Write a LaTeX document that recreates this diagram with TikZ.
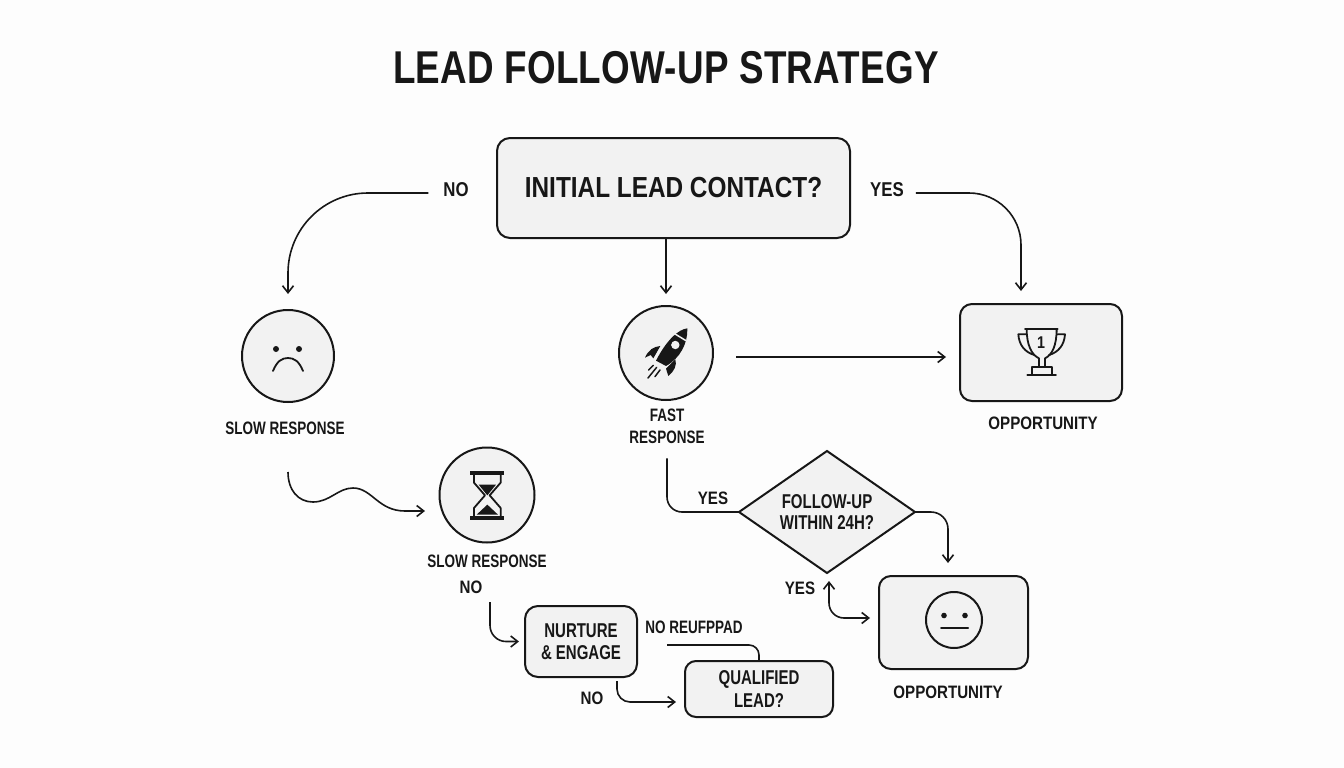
\documentclass[tikz,border=0pt]{standalone}
\usepackage{fontspec}
\setmainfont[FakeStretch=0.84]{Liberation Sans}
\newfontfamily\titlefont[FakeStretch=0.80,LetterSpace=0.6]{Liberation Sans}
\newfontfamily\slimfont[FakeStretch=0.75]{Liberation Sans}
\usetikzlibrary{arrows.meta,shapes.geometric}
\definecolor{ink}{HTML}{171717}
\definecolor{panel}{HTML}{F2F2F2}
\definecolor{paper}{HTML}{FDFDFD}
\tikzset{
  box/.style={draw=ink,fill=panel,line width=2pt,rounded corners=#1,inner sep=0pt,outer sep=0pt,align=center,text=ink},
  box/.default=13pt,
  disc/.style={draw=ink,fill=panel,line width=2pt,circle,inner sep=0pt,outer sep=0pt},
  lab/.style={text=ink,align=center,inner sep=0pt,outer sep=0pt,font=\bfseries\fontsize{18}{22}\selectfont},
  labs/.style={text=ink,align=center,inner sep=0pt,outer sep=0pt,font=\slimfont\bfseries\fontsize{18}{22}\selectfont},
  labl/.style={text=ink,align=center,inner sep=0pt,outer sep=0pt,font=\bfseries\fontsize{20}{22}\selectfont},
  conn/.style={draw=ink,line width=1.6pt,-{Straight Barb[length=7pt,width=11pt,line width=1.6pt]}},
  plain/.style={draw=ink,line width=1.6pt},
  glyph/.style={draw=ink,line width=1.8pt,line cap=round,line join=round},
}
\begin{document}
\begin{tikzpicture}[x=1pt,y=-1pt]
\useasboundingbox[fill=paper] (0,0) rectangle (1344,768);
\node[text=ink,inner sep=0pt,font=\titlefont\bfseries\fontsize{46}{50}\selectfont] (title) at (666,68) {LEAD FOLLOW-UP STRATEGY};
% nodes
\node[box,minimum width=353pt,minimum height=100pt,font=\bfseries\fontsize{29}{34}\selectfont] (main) at (673.5,188) {INITIAL LEAD CONTACT?};
\node[labl] (noA) at (456,190) {NO};
\node[labl] (yesA) at (887,190) {YES};
\node[disc,minimum size=92pt] (sad) at (288,356) {};
\node[disc,minimum size=94pt] (rocket) at (666,353) {};
\node[box=12pt,minimum width=162pt,minimum height=97pt] (trophy) at (1041,352.5) {};
\node[labs] (slowA) at (285,428) {SLOW RESPONSE};
\node[labs] (fast) at (667,426) {FAST\\RESPONSE};
\node[lab] (oppA) at (1043,423) {OPPORTUNITY};
\node[disc,minimum size=95pt] (glass) at (487,495) {};
\node[labs] (slowB) at (487,561) {SLOW RESPONSE};
\node[lab] (noB) at (471,587) {NO};
\node[box,minimum width=112pt,minimum height=71pt,font=\slimfont\bfseries\fontsize{20}{22}\selectfont] (nurture) at (581,641.5) {NURTURE\\\&~ENGAGE};
\node[labs] (refuel) at (694,627) {NO REUFPPAD};
\node[box=11pt,minimum width=148pt,minimum height=56pt,font=\slimfont\bfseries\fontsize{20}{23}\selectfont] (qualified) at (759,689) {QUALIFIED\\LEAD?};
\node[lab] (noC) at (592,698) {NO};
\node[diamond,aspect=1.44,draw=ink,fill=panel,line width=2pt,inner sep=0pt,outer sep=0pt,minimum width=176pt,minimum height=122pt,text=ink,align=center,font=\slimfont\bfseries\fontsize{20}{21}\selectfont] (follow) at (827,512) {FOLLOW-UP\\WITHIN 24H?};
\node[lab] (yesB) at (713,498) {YES};
\node[lab] (yesC) at (800,588) {YES};
\node[box=12pt,minimum width=149pt,minimum height=93pt] (neutral) at (953.5,622.5) {};
\node[lab] (oppB) at (948,692) {OPPORTUNITY};
\coordinate (waveS) at (288,472);
\coordinate (nurtS) at (490,602);
\coordinate (refS) at (667,645);
% connectors
\draw[conn,rounded corners=80pt,shorten <=15pt,shorten >=16pt] ([yshift=-3pt]noA.west) -| (sad.north);
\draw[conn,rounded corners=52pt,shorten <=12pt,shorten >=13pt] ([yshift=-3pt]yesA.east) -| ([xshift=-20pt]trophy.north);
\draw[conn,shorten >=12pt] (main.south -| rocket.north) -- (rocket.north);
\draw[conn,shorten <=23pt,shorten >=14pt] ([yshift=-4pt]rocket.east) -- ([yshift=-4.5pt]trophy.west);
\draw[conn] (waveS) .. controls (288,490) and (298,502) .. (313,502) .. controls (330,502) and (338,488) .. (353,488) .. controls (372,488) and (378,511) .. (405,511) -- (425,511);
\draw[conn,rounded corners=16pt,shorten >=6pt] (nurtS) |- (nurture.west);
\draw[plain,rounded corners=10pt] (refS) -| (qualified.north);
\draw[conn,rounded corners=13pt,shorten <=4pt,shorten >=9pt] ([xshift=36pt]nurture.south) |- ([yshift=-13pt]qualified.west);
\draw[plain,rounded corners=15pt,shorten <=15pt] (fast.south) |- (follow.west);
\draw[conn,rounded corners=17pt,shorten >=13pt] (follow.east) -| ([xshift=-5.5pt]neutral.north);
\draw[draw=ink,line width=1.6pt,{Straight Barb[length=7pt,width=11pt,line width=1.6pt]}-{Straight Barb[length=7pt,width=11pt,line width=1.6pt]},rounded corners=15pt,shorten <=9pt,shorten >=8pt] ([yshift=4.5pt]neutral.west) -| ([xshift=2pt]follow.south);
% sad face
\fill[ink] (276,349) circle (3pt) (299,349) circle (3pt);
\draw[glyph] (273,371) .. controls (277,361) and (282,358) .. (288,358) .. controls (294,358) and (299,361) .. (303,371);
% neutral face
\node[disc,draw=ink,fill=none,minimum size=56pt] (nface) at (954,620) {};
\fill[ink] (944,615.5) circle (2.8pt) (965,615.5) circle (2.8pt);
\draw[glyph,line width=2pt] (941,627.5) -- (968,627.5);
% rocket
\begin{scope}[shift={(600,290)},x=0.3333pt,y=-0.3333pt]
\fill[ink] (262,115) .. controls (235,118) and (200,150) .. (168,212) -- (198,228) .. controls (240,205) and (264,160) .. (262,115) -- cycle;
\draw[panel,line width=1.5pt] (222,130) -- (258,152);
\fill[panel] (226,165) circle (4.2pt);
\fill[ink] (135,203) .. controls (145,180) and (160,170) .. (181,168) -- (160,205) -- (152,195) -- cycle;
\fill[ink] (205,258) -- (198,236) -- (226,208) .. controls (232,225) and (222,245) .. (205,258) -- cycle;
\draw[ink,line width=1.5pt,line cap=round] (144,264) -- (170,232);
\draw[ink,line width=1.5pt,line cap=round] (146,240) -- (160,226);
\draw[ink,line width=1.5pt,line cap=round] (165,260) -- (180,240);
\end{scope}
% trophy
\begin{scope}[shift={(950,295)},x=0.3333pt,y=-0.3333pt]
\draw[glyph,fill=panel] (225,102) -- (323,102) (230,102) .. controls (230,150) and (245,180) .. (267,190) -- (267,216) -- (285,216) -- (285,190) .. controls (307,180) and (320,150) .. (320,102);
\draw[glyph] (228,118) -- (205,118) .. controls (207,150) and (225,172) .. (253,180);
\draw[glyph] (322,118) -- (345,118) .. controls (343,150) and (325,172) .. (297,180);
\draw[glyph] (245,238) -- (245,216) -- (305,216) -- (305,238);
\draw[glyph] (232,240) -- (318,240);
\node[text=ink,inner sep=0pt,font=\bfseries\fontsize{17}{18}\selectfont] (cupnum) at (273,144) {1};
\end{scope}
% hourglass
\begin{scope}[shift={(430,440)},x=0.3333pt,y=-0.3333pt]
\draw[glyph] (132,100) -- (132,128) -- (165,166) -- (132,204) -- (132,232);
\draw[glyph] (212,100) -- (212,128) -- (179,166) -- (212,204) -- (212,232);
\fill[ink] (120,93) rectangle (222,105);
\fill[ink] (120,228) rectangle (222,240);
\fill[ink] (146,134) -- (198,134) -- (172,166) -- cycle;
\fill[ink] (140,224) -- (204,224) -- (172,194) -- cycle;
\end{scope}
\end{tikzpicture}
\end{document}
